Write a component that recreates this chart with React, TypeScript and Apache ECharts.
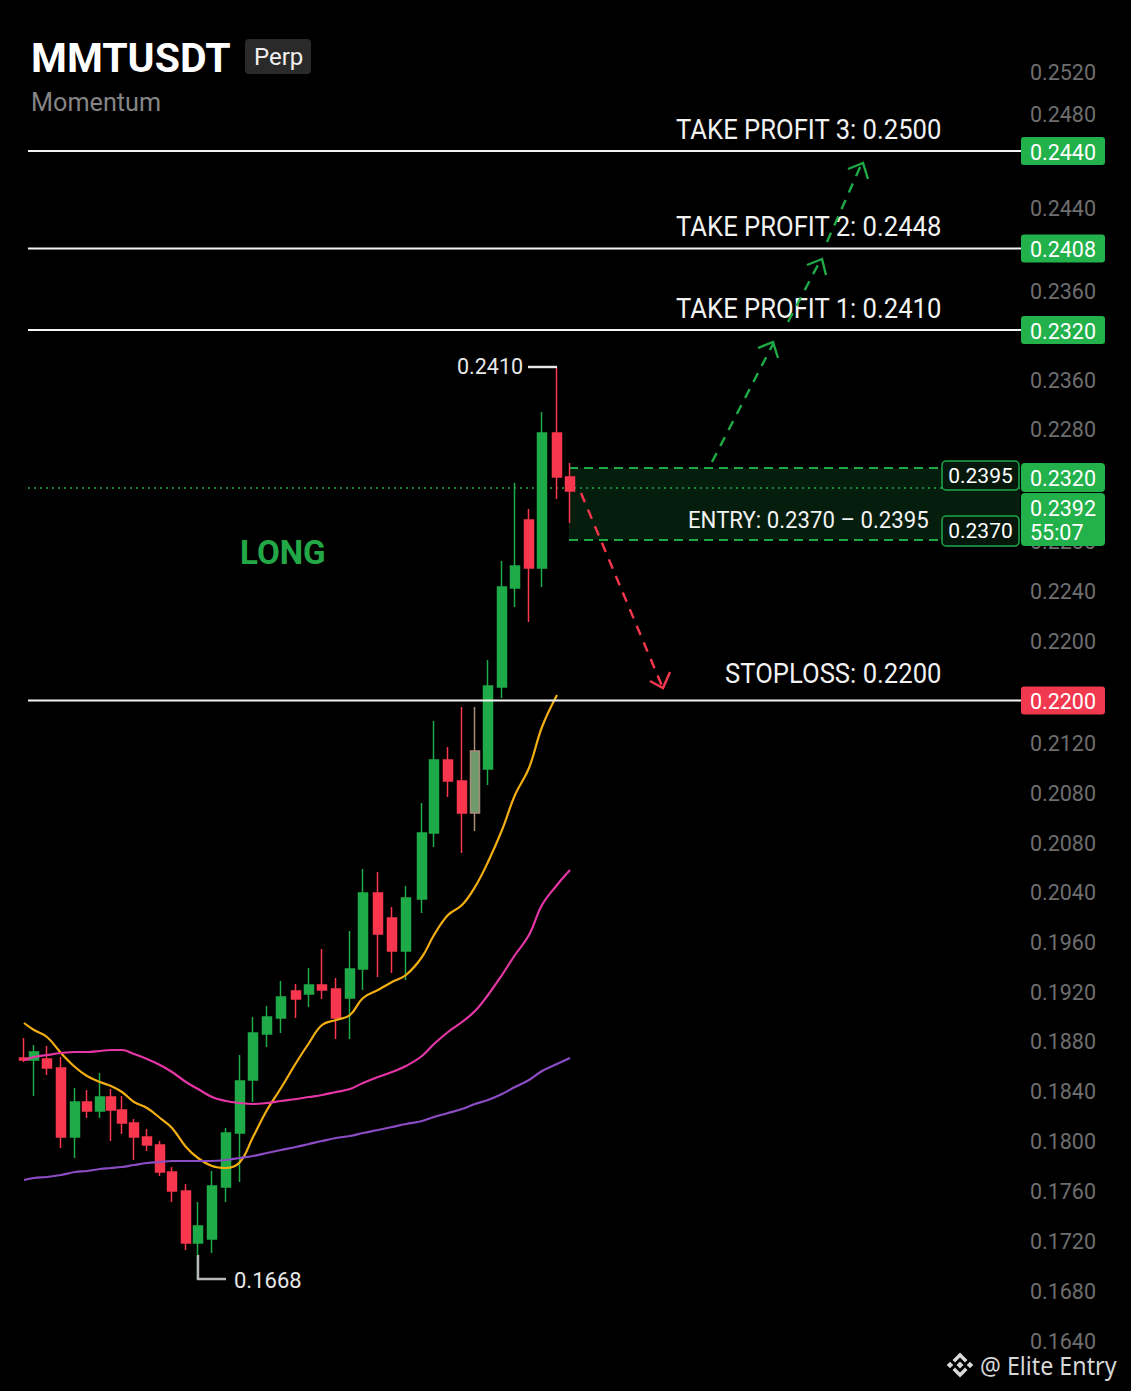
import React, { useEffect, useRef } from "react";
import * as echarts from "echarts";

// position of each bar along the time scale (the bars are not evenly spaced there)
const BAR_TIMES = [
  24, 34, 47, 61, 75, 87, 100, 111, 122, 134, 147, 160, 172, 186, 198, 212, 226, 240, 253, 267, 281, 296, 309, 322, 336,
  350, 363, 378, 392, 406, 422, 434, 448, 462, 475, 488, 502, 515, 529, 542, 557, 570,
];

// [open, close, low, high]
const CANDLES: number[][] = [
  [0.18664, 0.18648, 0.18632, 0.18824], [0.18648, 0.18712, 0.1836, 0.18768], [0.18656, 0.18584, 0.18528, 0.1876],
  [0.18584, 0.18032, 0.17944, 0.18672], [0.18032, 0.18312, 0.17864, 0.18424], [0.18312, 0.1824, 0.18184, 0.18408],
  [0.1824, 0.18352, 0.18184, 0.18544], [0.18352, 0.18248, 0.18, 0.18416], [0.18248, 0.18144, 0.18056, 0.1836],
  [0.18144, 0.18032, 0.17848, 0.18176], [0.18032, 0.17968, 0.1792, 0.18096], [0.17968, 0.17752, 0.1772, 0.18],
  [0.17752, 0.176, 0.17512, 0.17792], [0.176, 0.17184, 0.17128, 0.17656], [0.17184, 0.1732, 0.16896, 0.17512],
  [0.17216, 0.1764, 0.17104, 0.1776], [0.17632, 0.18064, 0.17512, 0.18104], [0.18064, 0.1848, 0.17672, 0.18688],
  [0.18488, 0.18864, 0.18312, 0.18992], [0.18856, 0.18992, 0.18752, 0.1908], [0.18984, 0.19152, 0.18864, 0.1928],
  [0.192, 0.19136, 0.18984, 0.19256], [0.19176, 0.19248, 0.19072, 0.19384], [0.19248, 0.19208, 0.19136, 0.19536],
  [0.19216, 0.18984, 0.18816, 0.19304], [0.19144, 0.19376, 0.18816, 0.1968], [0.19376, 0.19984, 0.19208, 0.20176],
  [0.19984, 0.19656, 0.19312, 0.20152], [0.19784, 0.1952, 0.19344, 0.19872], [0.1952, 0.19944, 0.19288, 0.2004],
  [0.19936, 0.20464, 0.19824, 0.20704], [0.20464, 0.21048, 0.20352, 0.2136], [0.21048, 0.2088, 0.20752, 0.21152],
  [0.2088, 0.20624, 0.20304, 0.21472], [0.20624, 0.2112, 0.2048, 0.21472], [0.20976, 0.2164, 0.20848, 0.21848],
  [0.21632, 0.22432, 0.21544, 0.2264], [0.22424, 0.226, 0.22272, 0.23264], [0.22968, 0.22584, 0.22152, 0.23056],
  [0.22584, 0.23664, 0.22432, 0.23832], [0.23664, 0.23312, 0.23136, 0.24192], [0.23312, 0.232, 0.22944, 0.23424],
];

const MA_YELLOW = [
  0.18944, 0.18888, 0.18832, 0.18704, 0.18592, 0.1852, 0.18472, 0.1844, 0.18392, 0.18312, 0.18264, 0.18184, 0.18104,
  0.17952, 0.17864, 0.178, 0.17784, 0.17832, 0.18032, 0.18248, 0.18424, 0.18624, 0.18784, 0.18928, 0.18968, 0.19008,
  0.19144, 0.19208, 0.19272, 0.19328, 0.19472, 0.19648, 0.19808, 0.19888, 0.20032, 0.20232, 0.20488, 0.20768, 0.20984,
  0.21312, 0.21568,
];
const MA_MAGENTA = [
  0.18648, 0.18672, 0.18688, 0.18704, 0.18712, 0.18712, 0.1872, 0.18728, 0.18728, 0.18696, 0.18656, 0.18608, 0.18552,
  0.18472, 0.18416, 0.18352, 0.1832, 0.18304, 0.18296, 0.18304, 0.1832, 0.18336, 0.18352, 0.18368, 0.18392, 0.18416,
  0.18464, 0.18512, 0.18552, 0.186, 0.1868, 0.18776, 0.18872, 0.18952, 0.1904, 0.19168, 0.19328, 0.19488, 0.19648,
  0.19888, 0.20048, 0.20168,
];
const MA_PURPLE = [
  0.17688, 0.17704, 0.17712, 0.17728, 0.17752, 0.1776, 0.17776, 0.17784, 0.17792, 0.17808, 0.17824, 0.17832, 0.1784,
  0.1784, 0.1784, 0.1784, 0.17848, 0.17864, 0.1788, 0.17904, 0.17928, 0.17952, 0.17976, 0.18, 0.18024, 0.1804, 0.18064,
  0.18088, 0.18112, 0.18136, 0.1816, 0.18192, 0.18224, 0.18256, 0.18296, 0.18328, 0.18376, 0.18432, 0.18488, 0.1856,
  0.18616, 0.18664,
];

// where each right-hand scale label sits, and what it reads
const TICK_VALUES = [
  0.26552, 0.26216, 0.25464, 0.248, 0.24088, 0.23696, 0.228, 0.224, 0.22, 0.21184, 0.20784, 0.20384, 0.19992, 0.19592,
  0.19192, 0.188, 0.184, 0.18, 0.176, 0.172, 0.168, 0.164,
];
const TICK_LABELS = [
  "0.2520", "0.2480", "0.2440", "0.2360", "0.2360", "0.2280", "0.2280", "0.2240", "0.2200", "0.2120", "0.2080", "0.2080",
  "0.2040", "0.1960", "0.1920", "0.1880", "0.1840", "0.1800", "0.1760", "0.1720", "0.1680", "0.1640",
];

const LEVEL_PRICES = [0.2592, 0.2514, 0.24488, 0.21524];
const LEVEL_TAGS = ["0.2440", "0.2408", "0.2320", "0.2200"];
const LEVEL_TEXTS = ["TAKE PROFIT 3: 0.2500", "TAKE PROFIT 2: 0.2448", "TAKE PROFIT 1: 0.2410", "STOPLOSS: 0.2200"];
const ENTRY_ZONE = [0.23384, 0.22808];
const LAST_PRICE = 0.23224;

const Y_MIN = 0.16;
const Y_MAX = 0.27128;
const X_MIN = 0;
const X_MAX = 1131;

const GREEN = "#1faa48";
const TAG_GREEN = "#22b14a";
const RED = "#f8374f";
const FONT = "Roboto, sans-serif";

const txt = (text: string, x: number, y: number, o: any = {}) => ({
  type: "text",
  x,
  y,
  z: o.z ?? 30,
  scaleX: o.scaleX ?? 1,
  silent: true,
  style: {
    text,
    fill: o.fill ?? "#fff",
    fontSize: o.size ?? 21.5,
    fontFamily: o.family ?? FONT,
    fontWeight: o.weight ?? 400,
    align: o.align ?? "left",
    verticalAlign: "middle",
  },
});

const dashLine = (points: number[][], color: string, dashed = true) => ({
  type: "polyline",
  z: 25,
  silent: true,
  shape: { points },
  style: { stroke: color, lineWidth: 2.4, fill: "none", lineDash: dashed ? [10, 8] : undefined },
});

const ARROWS = [
  { color: GREEN, line: [[712, 462], [773, 344]], head: [[758, 348], [773, 342], [778, 358]] },
  { color: GREEN, line: [[788, 322], [820, 261]], head: [[807, 265], [822, 259], [826, 275]] },
  { color: GREEN, line: [[827, 242], [861, 165]], head: [[848, 169], [863, 163], [868, 179]] },
  { color: RED, line: [[581, 493], [662, 686]], head: [[650, 681], [663, 688], [670, 672]] },
];

const roundTag = (x: number, y: number, w: number, h: number, fill: string, stroke?: string) => ({
  type: "rect",
  z: 28,
  silent: true,
  shape: { x, y, width: w, height: h, r: 4 },
  style: { fill, stroke: stroke ?? "none", lineWidth: stroke ? 1.5 : 0 },
});

const logo = (cx: number, cy: number) => {
  const f = "#d9d9d9";
  const poly = (points: number[][]) => ({ type: "polygon", z: 30, silent: true, shape: { points }, style: { fill: f } });
  const diamond = (x: number, y: number, r: number) => poly([[x - r, y], [x, y - r], [x + r, y], [x, y + r]]);
  return [
    diamond(cx, cy, 3.5),
    diamond(cx - 10, cy, 3.3),
    diamond(cx + 10, cy, 3.3),
    poly([[cx, cy - 12.5], [cx + 7.5, cy - 5], [cx + 5, cy - 2.5], [cx, cy - 7.5], [cx - 5, cy - 2.5], [cx - 7.5, cy - 5]]),
    poly([[cx, cy + 12.5], [cx + 7.5, cy + 5], [cx + 5, cy + 2.5], [cx, cy + 7.5], [cx - 5, cy + 2.5], [cx - 7.5, cy + 5]]),
  ];
};

export default function App() {
  const ref = useRef<HTMLDivElement>(null);

  useEffect(() => {
    document.body.style.margin = "0";
    document.body.style.background = "#000";
    const chart = echarts.init(ref.current!, undefined, { renderer: "svg" });

    const candleData = CANDLES.map((c, i) =>
      i === 34
        ? { value: [BAR_TIMES[i], ...c], itemStyle: { color: "#6f9a6c", borderColor: "#a58d78" } }
        : [BAR_TIMES[i], ...c]
    );

    const maSeries = (name: string, data: number[], color: string) => ({
      name,
      type: "line",
      data: data.map((v, i) => [BAR_TIMES[i], v]),
      showSymbol: false,
      symbol: "none",
      smooth: 0.4,
      z: 4,
      clip: false,
      lineStyle: { color, width: 2.2 },
      silent: true,
    });

    chart.setOption({
      animation: false,
      backgroundColor: "#000",
      grid: { left: 0, top: 0, width: 1131, height: 1391, containLabel: false },
      xAxis: {
        type: "value",
        min: X_MIN,
        max: X_MAX,
        show: false,
        splitLine: { show: false },
      },
      yAxis: {
        type: "value",
        position: "right",
        min: Y_MIN,
        max: Y_MAX,
        splitLine: { show: false },
        axisLine: { show: false },
        axisTick: { show: false },
        axisLabel: {
          inside: true,
          margin: 35,
          align: "right",
          color: "#6e6e6e",
          fontSize: 21.5,
          fontFamily: FONT,
          customValues: TICK_VALUES,
          formatter: (v: number) => {
            let best = 0;
            TICK_VALUES.forEach((t, i) => {
              if (Math.abs(t - v) < Math.abs(TICK_VALUES[best] - v)) best = i;
            });
            return TICK_LABELS[best];
          },
        },
      },
      series: [
        {
          name: "entry zone",
          type: "custom",
          z: 1,
          silent: true,
          data: [[0, ENTRY_ZONE[0], ENTRY_ZONE[1], LAST_PRICE]],
          renderItem: (_p: any, api: any) => {
            const top = api.coord([0, api.value(1)])[1];
            const bottom = api.coord([0, api.value(2)])[1];
            const last = api.coord([0, api.value(3)])[1];
            const dash = { stroke: GREEN, lineWidth: 2, lineDash: [9, 6] };
            return {
              type: "group",
              children: [
                { type: "rect", shape: { x: 569, y: top, width: 451, height: bottom - top }, style: { fill: "rgba(30,170,70,0.17)" } },
                { type: "line", shape: { x1: 569, y1: top, x2: 942, y2: top }, style: dash },
                { type: "line", shape: { x1: 569, y1: bottom, x2: 942, y2: bottom }, style: dash },
                { type: "line", shape: { x1: 28, y1: last, x2: 1020, y2: last }, style: { stroke: GREEN, lineWidth: 1.5, lineDash: [2, 4] } },
              ],
            };
          },
        },
        {
          name: "MMTUSDT",
          type: "candlestick",
          data: candleData,
          encode: { x: 0, y: [1, 2, 3, 4] },
          barWidth: 9.5,
          z: 3,
          silent: true,
          itemStyle: { color: GREEN, color0: RED, borderColor: GREEN, borderColor0: RED, borderWidth: 1.5 },
        },
        maSeries("MA short", MA_YELLOW, "#f2ae12"),
        maSeries("MA mid", MA_MAGENTA, "#e636a6"),
        maSeries("MA long", MA_PURPLE, "#8b4cc4"),
        {
          name: "levels",
          type: "custom",
          z: 6,
          silent: true,
          data: LEVEL_PRICES.map((p) => [0, p]),
          renderItem: (params: any, api: any) => {
            const i = params.dataIndex;
            const y = api.coord([0, api.value(1)])[1];
            const isStop = i === 3;
            return {
              type: "group",
              children: [
                { type: "line", shape: { x1: 28, y1: y, x2: 1021, y2: y }, style: { stroke: "#f4f4f4", lineWidth: 2 } },
                { type: "rect", shape: { x: 1021, y: y - 14, width: 84, height: 28, r: 3 }, style: { fill: isStop ? "#f0384e" : TAG_GREEN } },
                txt(LEVEL_TAGS[i], 1063, y + 1, { align: "center" }),
                txt(LEVEL_TEXTS[i], isStop ? 725 : 676, y + (isStop ? -27 : -21.5), { size: 27, scaleX: 0.95, fill: "#f2f2f2" }),
              ],
            };
          },
        },
      ],
      graphic: {
        elements: [
          txt("MMTUSDT", 31, 58, { size: 41, weight: 700, scaleX: 1 }),
          roundTag(245, 39, 66, 35, "#2a2a2a"),
          txt("Perp", 254, 57, { size: 24, fill: "#f0f0f0" }),
          txt("Momentum", 31, 102, { size: 26, fill: "#858585", scaleX: 0.97 }),
          txt("LONG", 240, 552, { size: 34, weight: 700, fill: "#22a846", scaleX: 0.975 }),
          txt("0.2410", 457, 366, { fill: "#e8e8e8" }),
          dashLine([[528, 367], [557, 367]], "#e8e8e8", false),
          txt("0.1668", 234, 1280, { size: 22, fill: "#e8e8e8" }),
          dashLine([[198, 1255], [198, 1279], [226, 1279]], "#b8b8b8", false),
          txt("ENTRY: 0.2370 \u2013 0.2395", 688, 520, { size: 24, scaleX: 0.925, fill: "#f2f2f2" }),
          roundTag(942, 461, 77, 29, "#06170b", GREEN),
          txt("0.2395", 980.5, 476, { size: 21, align: "center" }),
          roundTag(942, 516, 77, 30, "#06170b", GREEN),
          txt("0.2370", 980.5, 531, { size: 21, align: "center" }),
          roundTag(1021, 463, 84, 29, TAG_GREEN),
          txt("0.2320", 1063, 478, { align: "center" }),
          roundTag(1021, 493, 84, 53, TAG_GREEN),
          txt("0.2392", 1063, 508, { align: "center" }),
          txt("55:07", 1030, 532, {}),
          ...ARROWS.flatMap((a) => [dashLine(a.line, a.color), dashLine(a.head, a.color, false)]),
          ...logo(960, 1365),
          txt("@ Elite Entry", 980, 1365, { size: 25, scaleX: 0.93, fill: "#d6d6d6", family: "'Noto Sans', sans-serif" }),
        ],
      },
    });
    return () => chart.dispose();
  }, []);

  return <div ref={ref} style={{ position: "absolute", left: 0, top: 0, width: 1131, height: 1391 }} />;
}
